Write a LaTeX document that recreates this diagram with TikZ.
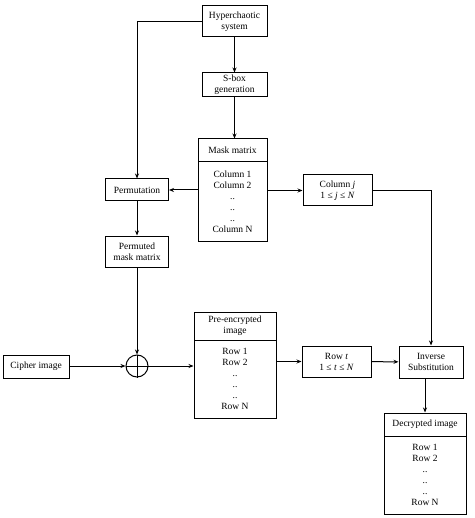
\documentclass[tikz,border=0pt]{standalone}
\usepackage{fontspec}
\setmainfont{Liberation Serif}
\usetikzlibrary{arrows.meta}

\begin{document}
\begin{tikzpicture}[->,>={Stealth[length=5pt,width=4pt]},x=1pt,y=-1pt,
  line width=1pt,
  block/.style={rectangle,draw,align=center,inner sep=1pt,
    font=\fontsize{9.5}{11}\selectfont},
  xor node/.style={circle,draw,minimum size=22pt,inner sep=0pt}]
\useasboundingbox (0,0) rectangle (474,518);
\node[block,minimum width=65pt,minimum height=31pt] (hyper) at (234.5,21.5) {Hyperchaotic\\system};
\node[block,minimum width=65pt,minimum height=24pt] (sbox) at (234.5,85) {S-box\\generation};
\node[block,minimum width=69pt,minimum height=23pt] (maskh) at (232.5,150.5) {Mask matrix};
\node[block,minimum width=69pt,minimum height=79pt] (maskb) at (232.5,201.5) {Column 1\\Column 2\\..\\..\\..\\Column N};
\node[block,minimum width=63pt,minimum height=22pt] (perm) at (137,190) {Permutation};
\node[block,minimum width=69pt,minimum height=31pt] (colj) at (337.5,190.5) {Column \textit{j}\\1 ≤ \textit{j} ≤ \textit{N}};
\node[block,minimum width=63pt,minimum height=31pt] (pmask) at (137,251.5) {Permuted\\mask matrix};
\node[xor node] (xor) at (137,366) {};
\node[block,minimum width=66pt,minimum height=23pt] (cipher) at (36,366.5) {Cipher image};
\node[block,minimum width=82pt,minimum height=28pt] (preh) at (235,326) {Pre-encrypted\\image};
\node[block,minimum width=82pt,minimum height=78pt] (preb) at (235,379) {Row 1\\Row 2\\..\\..\\..\\Row N};
\node[block,minimum width=69pt,minimum height=31pt] (rowt) at (336.5,361.5) {Row \textit{t}\\1 ≤ \textit{t} ≤ \textit{N}};
\node[block,minimum width=64pt,minimum height=32pt] (inv) at (431,362) {Inverse\\Substitution};
\node[block,minimum width=82pt,minimum height=23pt] (dech) at (425,424.5) {Decrypted image};
\node[block,minimum width=82pt,minimum height=78pt] (decb) at (425,475) {Row 1\\Row 2\\..\\..\\..\\Row N};
\draw [-] (xor.north) -- (xor.south);
\draw [-] (xor.west) -- (xor.east);
\draw (hyper) -- (sbox);
\draw (sbox.south) -- (sbox.south |- maskh.north);
\draw (hyper.west) -| (perm.north);
\draw (perm.east -| maskb.west) -- (perm.east);
\draw (colj.west -| maskb.east) -- (colj.west);
\draw (colj.east) -| (inv.north);
\draw (perm) -- (pmask);
\draw (pmask) -- (xor.north);
\draw (cipher.east |- xor) -- (xor.west);
\draw (xor.east) -- (xor.east -| preb.west);
\draw (rowt.west -| preb.east) -- (rowt.west);
\draw (rowt) -- (inv);
\draw (inv.south -| dech) -- (dech.north);
\end{tikzpicture}
\end{document}
